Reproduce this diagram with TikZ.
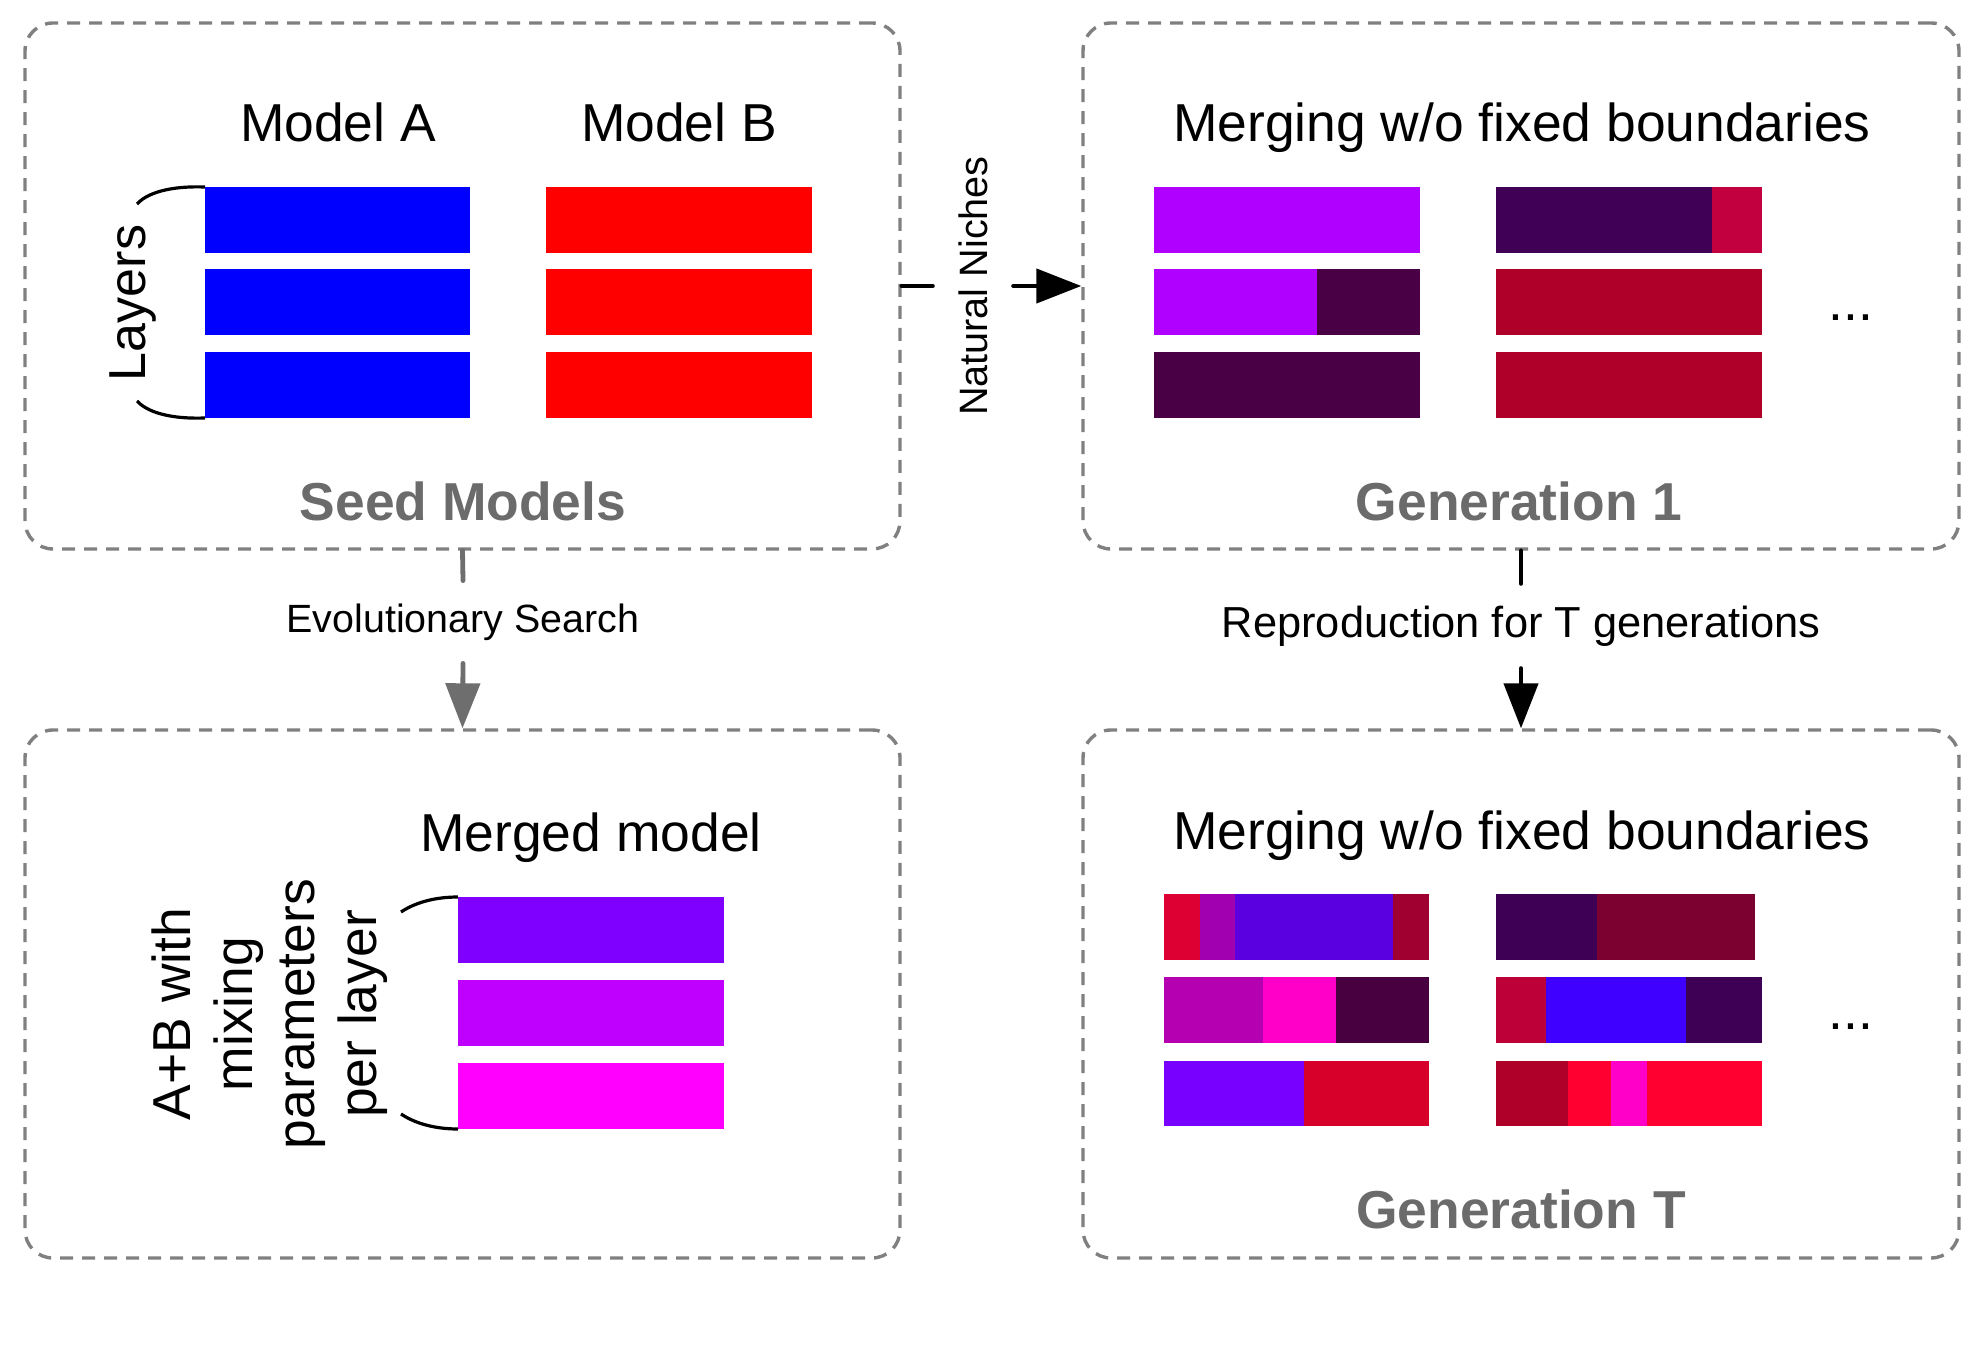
\documentclass[tikz,border=0pt]{standalone}
\usepackage{fontspec}
\setmainfont{Liberation Sans}
\usetikzlibrary{arrows.meta}
\definecolor{ttlgray}{RGB}{107,107,107}
\definecolor{boxgray}{RGB}{128,128,128}
\definecolor{arrgray}{RGB}{110,110,110}
\definecolor{pA}{HTML}{B000FF}
\definecolor{dA}{HTML}{4A0045}
\definecolor{dB}{HTML}{3F0055}
\definecolor{rA}{HTML}{C2003F}
\definecolor{rB}{HTML}{AE0028}
\definecolor{mA}{HTML}{7F00FF}
\definecolor{mB}{HTML}{C000FF}
\definecolor{mC}{HTML}{FF00FF}
\definecolor{tA}{HTML}{DD0033}
\definecolor{tB}{HTML}{A000B0}
\definecolor{tC}{HTML}{5A00E0}
\definecolor{tD}{HTML}{A00030}
\definecolor{tE}{HTML}{B400B0}
\definecolor{tF}{HTML}{FF00C8}
\definecolor{tG}{HTML}{480040}
\definecolor{tH}{HTML}{7800FF}
\definecolor{tI}{HTML}{D6002A}
\definecolor{tJ}{HTML}{3D0055}
\definecolor{tK}{HTML}{7C0030}
\definecolor{tL}{HTML}{BE0038}
\definecolor{tM}{HTML}{4000FF}
\definecolor{tN}{HTML}{AE0028}
\definecolor{tO}{HTML}{FF0030}
\newcommand{\segm}[5]{\fill[#5] (#1,#2) rectangle (#3,#4);}
\tikzset{
  panel/.style={draw=boxgray, line width=1.7pt, dash pattern=on 6.5pt off 4.5pt,
    rounded corners=14pt, minimum width=437.5pt, minimum height=263pt, inner sep=0pt},
  bigtxt/.style={font=\fontsize{26.7}{31}\selectfont, inner sep=0pt, anchor=base},
  ttl/.style={font=\fontsize{26.7}{31}\selectfont\bfseries, text=ttlgray, inner sep=0pt, anchor=base},
  conn/.style={line width=2.2pt, black, line cap=round},
  gconn/.style={line width=2.4pt, arrgray, line cap=round},
  tip/.style={-{Triangle[length=22.5pt,width=17pt]}},
  brk/.style={line width=1.6pt, black},
  dots/.style={font=\fontsize{26.7}{31}\selectfont, inner sep=0pt, anchor=base}
}
\begin{document}
\begin{tikzpicture}[x=0.5pt, y=-0.5pt]
\fill[white] (0,0) rectangle (1980,1352);
\useasboundingbox (0,0) rectangle (1980,1352);

% panels
\node[panel] (seed) at (462.5,286) {};
\node[panel, minimum width=438pt] (gen1) at (1521,286) {};
\node[panel, minimum height=264pt] (merged) at (462.5,994) {};
\node[panel, minimum width=438pt, minimum height=264pt] (genT) at (1521,994) {};

% ---------- Seed models ----------
\node[bigtxt] (ma) at (338,142) {Model A};
\node[bigtxt] (mb) at (679,142) {Model B};
\segm{205}{187}{470}{253}{blue}
\segm{205}{269}{470}{335}{blue}
\segm{205}{352}{470}{418}{blue}
\segm{546}{187}{812}{253}{red}
\segm{546}{269}{812}{335}{red}
\segm{546}{352}{812}{418}{red}
\node[bigtxt, font=\fontsize{26}{30}\selectfont, rotate=90] (layers) at (145,303) {Layers};
\draw[brk] (205,187) .. controls (178,186) and (150,190) .. (137,204);
\draw[brk] (205,418) .. controls (178,419) and (150,415) .. (137,401);
\node[ttl] (seedt) at (463,521) {Seed Models};

% ---------- Generation 1 ----------
\node[bigtxt] (m1) at (1522,142) {Merging w/o fixed boundaries};
\segm{1154}{187}{1420}{253}{pA}
\segm{1154}{269}{1317}{335}{pA}
\segm{1317}{269}{1420}{335}{dA}
\segm{1154}{352}{1420}{418}{dA}
\segm{1496}{187}{1712}{253}{dB}
\segm{1712}{187}{1762}{253}{rA}
\segm{1496}{269}{1762}{335}{rB}
\segm{1496}{352}{1762}{418}{rB}
\node[dots] (d1) at (1851,321) {...};
\node[ttl] (g1t) at (1519,521) {Generation 1};

% ---------- Merged model ----------
\node[bigtxt] (mm) at (591,851) {Merged model};
\segm{458}{897}{724}{963}{mA}
\segm{458}{980}{724}{1046}{mB}
\segm{458}{1063}{724}{1129}{mC}
\draw[brk] (458,897) .. controls (436,897) and (416,902) .. (401,912);
\draw[brk] (458,1129) .. controls (436,1129) and (416,1124) .. (401,1114);
\node[font=\fontsize{26.7}{31}\selectfont, align=center, rotate=90, inner sep=0pt] (mix) at (270,1014)
  {A+B with\\mixing\\parameters\\per layer};

% ---------- Generation T ----------
\node[bigtxt] (mT) at (1522,849) {Merging w/o fixed boundaries};
\segm{1164}{894}{1200}{960}{tA}
\segm{1200}{894}{1235}{960}{tB}
\segm{1235}{894}{1393}{960}{tC}
\segm{1393}{894}{1429}{960}{tD}
\segm{1164}{977}{1263}{1043}{tE}
\segm{1263}{977}{1336}{1043}{tF}
\segm{1336}{977}{1429}{1043}{tG}
\segm{1164}{1061}{1304}{1126}{tH}
\segm{1304}{1061}{1429}{1126}{tI}
\segm{1496}{894}{1597}{960}{tJ}
\segm{1597}{894}{1755}{960}{tK}
\segm{1496}{977}{1546}{1043}{tL}
\segm{1546}{977}{1686}{1043}{tM}
\segm{1686}{977}{1762}{1043}{tJ}
\segm{1496}{1061}{1568}{1126}{tN}
\segm{1568}{1061}{1611}{1126}{tO}
\segm{1611}{1061}{1647}{1126}{tF}
\segm{1647}{1061}{1762}{1126}{tO}
\node[dots] (dT) at (1851,1029) {...};
\node[ttl] (gTt) at (1521,1228) {Generation T};

% ---------- connectors ----------
\node[font=\fontsize{19.8}{24}\selectfont, rotate=90, minimum height=40pt, inner sep=0pt] (nn) at (973,286) {Natural Niches};
\draw[conn] (seed.east) -- (nn.north);
\draw[conn, tip] (nn.south) -- (gen1.west);

\node[font=\fontsize{19.7}{24}\selectfont, minimum height=41pt, inner sep=0pt] (es) at (463,622) {Evolutionary Search};
\draw[gconn] (seed.south) -- (es.north);
\draw[gconn, tip] (es.south) -- (merged.north);

\node[font=\fontsize{21.7}{26}\selectfont, minimum height=42pt, inner sep=0pt] (rep) at (1521,626) {Reproduction for T generations};
\draw[conn] (gen1.south) -- (rep.north);
\draw[conn, tip] (rep.south) -- (genT.north);
\end{tikzpicture}
\end{document}
